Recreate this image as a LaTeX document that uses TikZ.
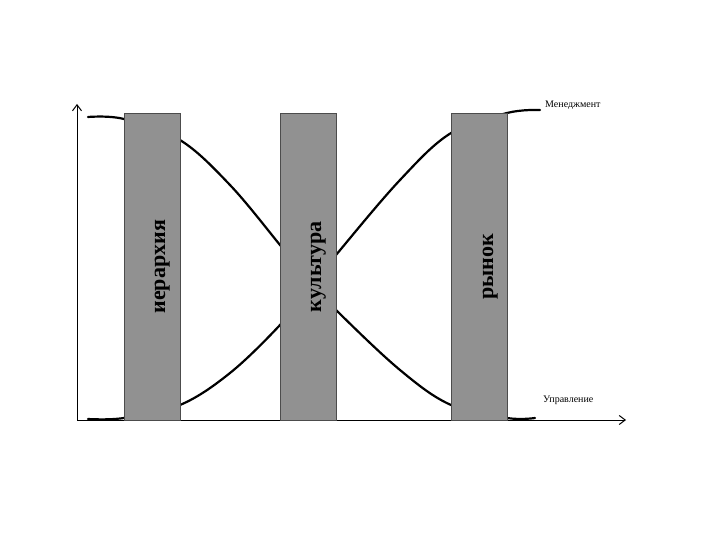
\documentclass[tikz,border=0pt]{standalone}
\usepackage{fontspec}
\setmainfont{Liberation Serif}
\usetikzlibrary{arrows.meta}
\begin{document}
\begin{tikzpicture}[x=1pt,y=-1pt,
  bar/.style={draw=black!70,fill={rgb,255:red,145;green,145;blue,145},minimum width=56pt,minimum height=307pt,anchor=north west,inner sep=0pt},
  bartext/.style={rotate=90,font=\fontsize{22}{24}\selectfont\bfseries},
  curve/.style={line width=2.2pt,line cap=round},
  lbl/.style={font=\fontsize{10}{12}\selectfont,anchor=west,inner sep=0pt}]
\useasboundingbox (0,0) rectangle (720,540);
\coordinate (o) at (77,420);
\coordinate (ytop) at (77,104);
\coordinate (xend) at (626,420);
\draw[line width=1pt,-{Straight Barb[length=6pt,width=9pt]}] (o) -- (ytop);
\draw[line width=1pt,-{Straight Barb[length=6pt,width=9pt]}] (o) -- (xend);
\draw[curve] plot[smooth,tension=0.6] coordinates {(88,117) (124,119) (180,140) (230,185) (280,245) (308,280) (336,310) (400,370) (451,405) (507,418) (535,418)};
\draw[curve] plot[smooth,tension=0.6] coordinates {(88,419) (124,418) (180,405) (230,373) (280,325) (308,290) (336,255) (400,180) (451,133) (507,113) (540,110)};
\node[bar] (b1) at (124,113) {};
\node[bar] (b2) at (280,113) {};
\node[bar] (b3) at (451,113) {};
\node[bartext] (t1) at ([xshift=10pt]b1.center) {иерархия};
\node[bartext] (t2) at ([xshift=10pt]b2.center) {культура};
\node[bartext] (t3) at ([xshift=11pt]b3.center) {рынок};
\node[lbl] (m) at (545,105) {Менеджмент};
\node[lbl] (u) at (543,400) {Управление};
\end{tikzpicture}
\end{document}
